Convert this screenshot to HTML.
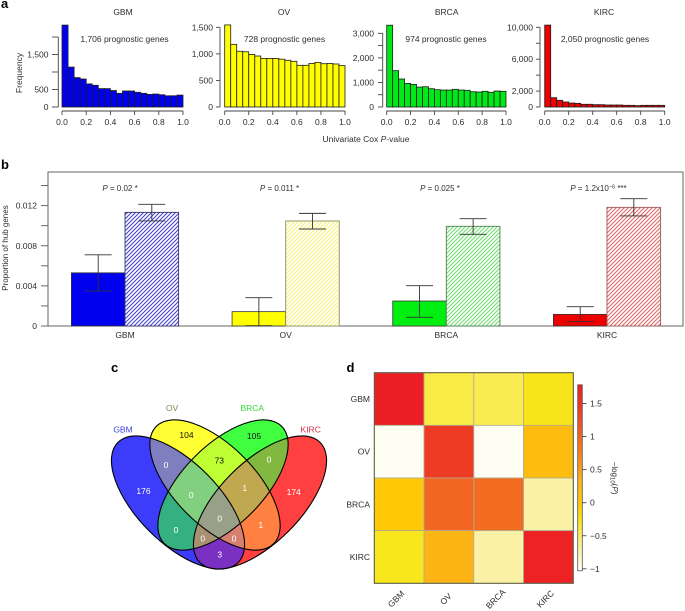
<!DOCTYPE html>
<html lang="en">
<head>
<meta charset="utf-8">
<title>Prognostic genes across cancer types</title>
<style>
html,body{margin:0;padding:0;background:#fff;width:685px;height:611px;overflow:hidden}
svg{display:block;filter:blur(0.35px)}
text{font-family:"Liberation Sans",sans-serif;font-size:8.5px;fill:#2e2e2e}
.panel-letter{font-size:13px;font-weight:bold;fill:#000}
.venn-white{fill:#fff}
.venn-dark{fill:#111}
</style>
</head>
<body>
<svg id="figure" xmlns="http://www.w3.org/2000/svg" width="685" height="611" viewBox="0 0 685 611">
  <defs>
    <pattern id="hatch-blue" patternUnits="userSpaceOnUse" width="4" height="4"><rect width="4" height="4" fill="#fff"/><path d="M-1 1L1 -1M0 4L4 0M3 5L5 3" stroke="#4444cc" stroke-width="1.1"/></pattern>
    <pattern id="hatch-yellow" patternUnits="userSpaceOnUse" width="4" height="4"><rect width="4" height="4" fill="#fff"/><path d="M-1 1L1 -1M0 4L4 0M3 5L5 3" stroke="#f7f27c" stroke-width="1.1"/></pattern>
    <pattern id="hatch-green" patternUnits="userSpaceOnUse" width="4" height="4"><rect width="4" height="4" fill="#fff"/><path d="M-1 1L1 -1M0 4L4 0M3 5L5 3" stroke="#74de74" stroke-width="1.1"/></pattern>
    <pattern id="hatch-red" patternUnits="userSpaceOnUse" width="4" height="4"><rect width="4" height="4" fill="#fff"/><path d="M-1 1L1 -1M0 4L4 0M3 5L5 3" stroke="#e06a6a" stroke-width="1.1"/></pattern>
    <clipPath id="clip-B"><ellipse cx="178" cy="502.5" rx="85" ry="40.5" transform="rotate(45 178 502.5)"/></clipPath>
    <clipPath id="clip-Y"><ellipse cx="215" cy="485" rx="83" ry="40" transform="rotate(45 215 485)"/></clipPath>
    <clipPath id="clip-G"><ellipse cx="223" cy="485" rx="83" ry="40" transform="rotate(-45 223 485)"/></clipPath>
    <clipPath id="clip-R"><ellipse cx="260" cy="502.5" rx="85" ry="40.5" transform="rotate(-45 260 502.5)"/></clipPath>
  </defs>

  <text class="panel-letter" x="1" y="8">a</text>
  <text class="panel-letter" x="1" y="169">b</text>
  <text class="panel-letter" x="111" y="372">c</text>
  <text class="panel-letter" x="346.5" y="372">d</text>

  <g id="panel-a">
    <text x="123" y="15" text-anchor="middle">GBM</text>
    <text x="284" y="15" text-anchor="middle">OV</text>
    <text x="446.7" y="15" text-anchor="middle">BRCA</text>
    <text x="604" y="15" text-anchor="middle">KIRC</text>
    <text x="124.5" y="42" text-anchor="middle">1,706 prognostic genes</text>
    <text x="284.5" y="42" text-anchor="middle">728 prognostic genes</text>
    <text x="446" y="42" text-anchor="middle">974 prognostic genes</text>
    <text x="605" y="42" text-anchor="middle">2,050 prognostic genes</text>
    <text transform="translate(22 73) rotate(-90)" text-anchor="middle">Frequency</text>
    <text x="366" y="142" text-anchor="middle">Univariate Cox <tspan font-style="italic">P</tspan>-value</text>
  </g>

  <g id="panel-b">
    <path d="M48 326V172H683V326Z" fill="none" stroke="#666" stroke-width="1"/>
    <text transform="translate(8 248) rotate(-90)" text-anchor="middle" style="font-size:8px">Proportion of hub genes</text>
    <text x="120" y="191" text-anchor="middle" style="font-size:8px"><tspan font-style="italic">P</tspan> = 0.02 *</text>
    <text x="279.5" y="191" text-anchor="middle" style="font-size:8px"><tspan font-style="italic">P</tspan> = 0.011 *</text>
    <text x="440" y="191" text-anchor="middle" style="font-size:8px"><tspan font-style="italic">P</tspan> = 0.025 *</text>
    <text x="598.5" y="191" text-anchor="middle" style="font-size:8px"><tspan font-style="italic">P</tspan> = 1.2x10<tspan dy="-2.5" style="font-size:5.5px">−6</tspan><tspan dy="2.5"> ***</tspan></text>
  </g>

  <g id="panel-c">
    <g id="venn-fills"></g>
    <g fill="none" stroke="#000" stroke-width="1.1">
      <ellipse cx="178" cy="502.5" rx="85" ry="40.5" transform="rotate(45 178 502.5)"/>
      <ellipse cx="215" cy="485" rx="83" ry="40" transform="rotate(45 215 485)"/>
      <ellipse cx="223" cy="485" rx="83" ry="40" transform="rotate(-45 223 485)"/>
      <ellipse cx="260" cy="502.5" rx="85" ry="40.5" transform="rotate(-45 260 502.5)"/>
    </g>
    <text x="123" y="432.5" text-anchor="middle" style="fill:#3f3fe0">GBM</text>
    <text x="172" y="411" text-anchor="middle" style="fill:#85854a">OV</text>
    <text x="252.3" y="411" text-anchor="middle" style="fill:#35d835">BRCA</text>
    <text x="310.7" y="432.5" text-anchor="middle" style="fill:#d83040">KIRC</text>
    <text class="venn-white" x="143.5" y="494" text-anchor="middle">176</text>
    <text class="venn-dark" x="186.5" y="438" text-anchor="middle">104</text>
    <text class="venn-dark" x="254" y="439" text-anchor="middle">105</text>
    <text class="venn-white" x="293.7" y="495" text-anchor="middle">174</text>
    <text class="venn-white" x="166" y="468" text-anchor="middle">0</text>
    <text class="venn-dark" x="219.3" y="463.5" text-anchor="middle">73</text>
    <text class="venn-white" x="269" y="462.7" text-anchor="middle">0</text>
    <text class="venn-white" x="191.3" y="498" text-anchor="middle">0</text>
    <text class="venn-white" x="244.7" y="491" text-anchor="middle">1</text>
    <text class="venn-white" x="176" y="533" text-anchor="middle">0</text>
    <text class="venn-white" x="260.7" y="528" text-anchor="middle">1</text>
    <text class="venn-white" x="219.7" y="521.7" text-anchor="middle">0</text>
    <text class="venn-white" x="202.7" y="541.3" text-anchor="middle">0</text>
    <text class="venn-white" x="234" y="541.3" text-anchor="middle">0</text>
    <text class="venn-white" x="219.7" y="557.3" text-anchor="middle">3</text>
  </g>

  <g id="panel-d">
    <text transform="translate(612 478) rotate(90)" text-anchor="middle" style="font-size:8px">−log<tspan dy="1.5" style="font-size:6px">10</tspan><tspan dy="-1.5">(</tspan><tspan font-style="italic">P</tspan>)</text>
  </g>
</svg>
<script>
// ---- panel a data ----
const gbmCounts = [2340, 1140, 840, 800, 660, 620, 525, 525, 470, 390, 457, 457, 420, 390, 360, 370, 350, 320, 320, 340];
const ovCounts = [1545, 1180, 1050, 1040, 990, 960, 915, 915, 915, 900, 880, 860, 785, 785, 820, 840, 815, 820, 810, 780];
const brcaCounts = [3330, 1480, 1140, 960, 920, 810, 825, 745, 705, 690, 690, 720, 690, 680, 620, 610, 640, 600, 650, 640];
const kircCounts = [10280, 1170, 840, 630, 500, 460, 340, 340, 290, 290, 250, 250, 250, 210, 210, 170, 210, 210, 210, 210];
const pValueTicks = [0, 0.2, 0.4, 0.6, 0.8, 1];
const pValueTickLabels = ['0.0', '0.2', '0.4', '0.6', '0.8', '1.0'];
const gbmTicks = [0, 500, 1000, 1500, 2000];
const gbmTickLabels = ['0', '500', '', '1,500', ''];
const ovTicks = [0, 500, 1000, 1500];
const ovTickLabels = ['0', '500', '1,000', '1,500'];
const brcaTicks = [0, 500, 1000, 1500, 2000, 2500, 3000];
const brcaTickLabels = ['0', '', '1,000', '', '2,000', '', '3,000'];
const kircTicks = [0, 2000, 4000, 6000, 8000, 10000];
const kircTickLabels = ['0', '2,000', '', '6,000', '', '10,000'];

// ---- panel b data ----
const cancerTypes = ['GBM', 'OV', 'BRCA', 'KIRC'];
const prognosticMeans = [0.0053, 0.00143, 0.00249, 0.00116];
const prognosticLow = [0.0035, 0.00003, 0.00087, 0.00043];
const prognosticHigh = [0.0071, 0.00282, 0.00402, 0.00193];
const otherMeans = [0.01133, 0.01047, 0.00994, 0.01183];
const otherLow = [0.01047, 0.00967, 0.00914, 0.01097];
const otherHigh = [0.01213, 0.01123, 0.0107, 0.01269];
const hubTicks = [0, 0.002, 0.004, 0.006, 0.008, 0.01, 0.012, 0.014];
const hubTickLabels = ['0', '', '0.004', '', '0.008', '', '0.012', ''];
const cancerFills = ['#0000ee', '#ffff00', '#00ee10', '#ee0000'];
const cancerHatches = ['hatch-blue', 'hatch-yellow', 'hatch-green', 'hatch-red'];
const cancerEdges = ['#34346e', '#8f8f60', '#4f7f4f', '#a05a5a'];

// ---- panel c data ----
const vennRegions = ['B', 'Y', 'G', 'R', 'BY', 'YG', 'GR', 'BG', 'YR', 'BR', 'BYG', 'YGR', 'BYR', 'BGR', 'BYGR'];
const vennColors = ['#3c3cfa', '#ffff33', '#40ff40', '#ff4040', '#7f7fc0', '#c0ff33', '#80b840', '#35b080', '#ff8040', '#7a30c0', '#80d080', '#c0a850', '#d88070', '#a89070', '#98a088'];

// ---- panel d data ----
const heatLabels = ['GBM', 'OV', 'BRCA', 'KIRC'];
const heatRowGbm = [1.78, -0.42, -0.45, -0.27];
const heatRowOv = [-1, 1.4, -1, 0.2];
const heatRowBrca = [0.03, 1.0, 0.93, -0.7];
const heatRowKirc = [-0.3, 0.3, -0.7, 1.75];
const colorbarTicks = [-1, -0.5, 0, 0.5, 1, 1.5];
const colorbarTickLabels = ['−1', '−0.5', '0', '0.5', '1', '1.5'];
const colorStopValues = [-1, -0.7, -0.3, 0, 0.3, 1, 1.4, 1.78];
const colorStopColors = [[255,254,242],[251,242,166],[248,231,28],[255,203,5],[253,181,21],[242,101,34],[238,59,36],[236,32,36]];

const NS = 'http://www.w3.org/2000/svg';
const svg = document.getElementById('figure');

function make(tag, parent, attrs, name) {
  const el = document.createElementNS(NS, tag);
  for (const k in attrs) el.setAttribute(k, attrs[k]);
  
  
  parent.appendChild(el);
  return el;
}
function label(parent, x, y, str, anchor, name) {
  const t = make('text', parent, {x: x, y: y, 'text-anchor': anchor}, name);
  t.textContent = str;
  return t;
}

// ---- histograms ----
function histogram(key, counts, fill, x0, x1, axisX, tickLeft, labelRight, pxPerUnit, ticks, tickLabels) {
  const base = 107;
  const g = make('g', document.getElementById('panel-a'), {}, key + '-histogram');
  const xScale = p => x0 + p * (x1 - x0);
  const yScale = v => base - v * pxPerUnit;
  counts.forEach((c, i) => {
    const a = xScale(i / counts.length), b = xScale((i + 1) / counts.length);
    make('rect', g, {x: a, y: yScale(c), width: b - a, height: base - yScale(c), fill: fill, stroke: '#1c1c1c', 'stroke-width': 0.8}, key + '-bar');
  });
  make('line', g, {x1: axisX, x2: axisX, y1: yScale(ticks[0]), y2: yScale(ticks[ticks.length - 1]), stroke: '#444', 'stroke-width': 0.9}, key + '-y-axis');
  ticks.forEach((t, i) => {
    make('line', g, {x1: tickLeft, x2: axisX, y1: yScale(t), y2: yScale(t), stroke: '#444', 'stroke-width': 0.9}, key + '-y-tick');
    if (tickLabels[i]) label(g, labelRight, yScale(t) + 3, tickLabels[i], 'end', key + '-y-tick-label');
  });
  make('line', g, {x1: xScale(0), x2: xScale(1), y1: 111, y2: 111, stroke: '#444', 'stroke-width': 0.9}, key + '-x-axis');
  pValueTicks.forEach((t, i) => {
    make('line', g, {x1: xScale(t), x2: xScale(t), y1: 111, y2: 115, stroke: '#444', 'stroke-width': 0.9}, key + '-x-tick');
    label(g, xScale(t), 125, pValueTickLabels[i], 'middle', key + '-x-tick-label');
  });
}
histogram('gbm', gbmCounts, '#0000ee', 62, 183, 58.3, 52, 48.5, 0.035, gbmTicks, gbmTickLabels);
histogram('ov', ovCounts, '#ffff00', 224.7, 345, 220, 216, 213, 0.05311, ovTicks, ovTickLabels);
histogram('brca', brcaCounts, '#00e818', 386.7, 506, 382.7, 378, 374, 0.02456, brcaTicks, brcaTickLabels);
histogram('kirc', kircCounts, '#ee0000', 544.7, 664.7, 540, 536, 533, 0.007967, kircTicks, kircTickLabels);

// ---- hub-gene bars ----
(function () {
  const g = make('g', document.getElementById('panel-b'), {}, 'hub-gene-bars');
  const yScale = v => 326 - v * 10030;
  const groupX = i => 125 + i * 160.67;
  const barW = 53.6;
  hubTicks.forEach((t, i) => {
    make('line', g, {x1: 41, x2: 48, y1: yScale(t), y2: yScale(t), stroke: '#555', 'stroke-width': 0.9}, 'hub-y-tick');
    if (hubTickLabels[i]) label(g, 37, yScale(t) + 3, hubTickLabels[i], 'end', 'hub-y-tick-label');
  });
  function errorBar(cx, lo, hi, key) {
    make('line', g, {x1: cx, x2: cx, y1: yScale(hi), y2: yScale(lo), stroke: '#333', 'stroke-width': 0.9}, key + '-error-stem');
    make('line', g, {x1: cx - 13.5, x2: cx + 13.5, y1: yScale(hi), y2: yScale(hi), stroke: '#333', 'stroke-width': 0.9}, key + '-error-cap-high');
    make('line', g, {x1: cx - 13.5, x2: cx + 13.5, y1: yScale(lo), y2: yScale(lo), stroke: '#333', 'stroke-width': 0.9}, key + '-error-cap-low');
  }
  cancerTypes.forEach((c, i) => {
    const key = c.toLowerCase();
    const x = groupX(i);
    make('rect', g, {x: x - barW, y: yScale(prognosticMeans[i]), width: barW, height: yScale(0) - yScale(prognosticMeans[i]), fill: cancerFills[i], stroke: '#333', 'stroke-width': 0.8}, key + '-prognostic-bar');
    make('rect', g, {x: x, y: yScale(otherMeans[i]), width: barW, height: yScale(0) - yScale(otherMeans[i]), fill: 'url(#' + cancerHatches[i] + ')', stroke: cancerEdges[i], 'stroke-width': 0.9}, key + '-non-prognostic-bar');
    errorBar(x - barW / 2, prognosticLow[i], prognosticHigh[i], key + '-prognostic');
    errorBar(x + barW / 2, otherLow[i], otherHigh[i], key + '-non-prognostic');
    label(g, x, 338, c, 'middle', key + '-category-label');
  });
})();

// ---- venn fills ----
(function () {
  const host = document.getElementById('venn-fills');
  vennRegions.forEach((region, i) => {
    let parent = host;
    region.split('').forEach(letter => {
      parent = make('g', parent, {'clip-path': 'url(#clip-' + letter + ')'}, 'venn-clip-' + letter.toLowerCase());
    });
    make('rect', parent, {x: 80, y: 395, width: 280, height: 180, fill: vennColors[i]}, 'venn-region-' + region.toLowerCase());
  });
})();

// ---- heatmap ----
function heatColor(v) {
  const s = colorStopValues;
  let i = 0;
  while (i < s.length - 2 && v > s[i + 1]) i++;
  const t = Math.max(0, Math.min(1, (v - s[i]) / (s[i + 1] - s[i])));
  const a = colorStopColors[i], b = colorStopColors[i + 1];
  return 'rgb(' + a.map((c, k) => Math.round(c + (b[k] - c) * t)).join(',') + ')';
}
(function () {
  const g = document.getElementById('panel-d');
  const left = 374.3, top = 372.7, cw = 49.75, ch = 52.65;
  const rows = [heatRowGbm, heatRowOv, heatRowBrca, heatRowKirc];
  rows.forEach((row, r) => {
    row.forEach((v, c) => {
      make('rect', g, {x: left + c * cw, y: top + r * ch, width: cw, height: ch, fill: heatColor(v), stroke: '#b0ac90', 'stroke-width': 0.8}, 'heat-cell');
    });
  });
  make('rect', g, {x: left, y: top, width: cw * 4, height: ch * 4, fill: 'none', stroke: '#5a5a40', 'stroke-width': 1}, 'heatmap-border');
  heatLabels.forEach((name, i) => {
    label(g, 370, top + (i + 0.5) * ch + 3, name, 'end', 'heat-row-label');
    const cx = left + (i + 0.5) * cw;
    const t = make('text', g, {transform: 'translate(' + (cx - 1) + ' 601) rotate(-45)', 'text-anchor': 'middle'}, 'heat-column-label');
    t.textContent = name;
  });
  const barX = 577.7, barW = 4.6;
  const cbY = v => 502.7 - v * 66.1;
  for (let v = -1.03; v < 1.78; v += 0.015) {
    make('rect', g, {x: barX, y: cbY(v + 0.015), width: barW, height: cbY(v) - cbY(v + 0.015) + 0.3, fill: heatColor(v)}, 'colorbar-step');
  }
  make('rect', g, {x: barX, y: cbY(1.78), width: barW, height: cbY(-1.03) - cbY(1.78), fill: 'none', stroke: '#555', 'stroke-width': 0.8}, 'colorbar-frame');
  colorbarTicks.forEach((t, i) => {
    make('line', g, {x1: barX + barW, x2: 586.5, y1: cbY(t), y2: cbY(t), stroke: '#444', 'stroke-width': 0.9}, 'colorbar-tick');
    label(g, 590, cbY(t) + 3, colorbarTickLabels[i], 'start', 'colorbar-tick-label');
  });
})();
</script>
</body>
</html>
